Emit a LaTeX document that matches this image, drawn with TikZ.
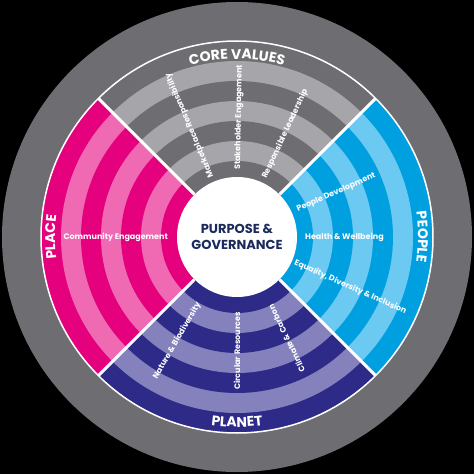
\documentclass[tikz,border=0pt]{standalone}
\usepackage{fontspec}
\setmainfont{Poppins}
\usepackage{tikz}
\usetikzlibrary{decorations.text}
\definecolor{Ring}{HTML}{6E6E72}
\definecolor{CoreDark}{HTML}{6E6E72}
\definecolor{CoreLight}{HTML}{A6A6AA}
\definecolor{PeopleDark}{HTML}{00A0E0}
\definecolor{PeopleLight}{HTML}{6CC9F2}
\definecolor{PlanetDark}{HTML}{2D2A88}
\definecolor{PlanetLight}{HTML}{8481BD}
\definecolor{PlaceDark}{HTML}{E5007D}
\definecolor{PlaceLight}{HTML}{F06AB3}
\definecolor{Navy}{HTML}{1C2A5C}
\tikzstyle{Item}=[text=white, inner sep=0, font=\bfseries\fontsize{8}{8}\selectfont]
\tikzstyle{Hub}=[text=Navy, align=center, inner sep=0, font=\bfseries\fontsize{13}{16}\selectfont]
\tikzstyle{Divider}=[white, line width=3pt]
\tikzset{Heading/.style={decorate, decoration={text along path, text align=center,
    text color=white, text={|\bfseries\fontsize{14}{14}\selectfont|#1}}}}

\begin{document}
\begin{tikzpicture}[x=1pt, y=1pt]
    \useasboundingbox (-237,-237) rectangle (237,237);
    \fill[black] (-237,-237) rectangle (237,237);
    \fill[Ring] (0,0) circle (235);

    % quadrants, outer band first
    \foreach \r/\shade in {196/Dark, 176/Light, 156/Dark, 136/Light, 116/Dark, 96/Light, 76/Dark} {
        \fill[Core\shade] (0,0) -- (45:\r) arc[start angle=45, end angle=135, radius=\r] -- cycle;
        \fill[Place\shade] (0,0) -- (135:\r) arc[start angle=135, end angle=225, radius=\r] -- cycle;
        \fill[Planet\shade] (0,0) -- (225:\r) arc[start angle=225, end angle=315, radius=\r] -- cycle;
        \fill[People\shade] (0,0) -- (-45:\r) arc[start angle=-45, end angle=45, radius=\r] -- cycle;
    }
    \draw[white, line width=1.5pt] (0,0) circle (196);

    \path (0,0) node[circle, fill=white, minimum size=120, inner sep=0] (hub) {};
    \path (hub.45) coordinate (ne) (hub.135) coordinate (nw)
          (hub.225) coordinate (sw) (hub.315) coordinate (se)
          (45:196) coordinate (ne') (135:196) coordinate (nw')
          (225:196) coordinate (sw') (315:196) coordinate (se');
    \draw[Divider] (ne) -- (ne');
    \draw[Divider] (nw) -- (nw');
    \draw[Divider] (sw) -- (sw');
    \draw[Divider] (se) -- (se');

    \path (0,0) node[Hub] (purpose) {PURPOSE \&\\GOVERNANCE};

    % headings round the outer band
    \path[Heading={CORE VALUES}] (120:178) arc[start angle=120, end angle=60, radius=178];
    \path[Heading={PEOPLE}] (30:181) arc[start angle=30, end angle=-30, radius=181];
    \path[Heading={PLANET}] (240:190) arc[start angle=240, end angle=300, radius=190];
    \path[Heading={PLACE}] (210:182) arc[start angle=210, end angle=150, radius=182];

    \path
    (113:65) node[Item, anchor=west, rotate=113] (market) {Marketplace Responsibility}
    (89:67) node[Item, anchor=west, rotate=89] (stake) {Stakeholder Engagement}
    (65:65) node[Item, anchor=west, rotate=65] (leader) {Responsible Leadership};

    \path
    (24:66) node[Item, anchor=west, rotate=24] (develop) {People Development}
    (0:68) node[Item, anchor=west] (health) {Health \& Wellbeing}
    (-24:63) node[Item, anchor=west, rotate=-24] (equality) {Equality, Diversity \& Inclusion};

    \path
    (240:76) node[Item, anchor=east, rotate=60] (nature) {Nature \& Biodiversity}
    (270:75) node[Item, anchor=east, rotate=90] (circular) {Circular Resources}
    (296:76) node[Item, anchor=east, rotate=116] (climate) {Climate \& Carbon};

    \path (180:69) node[Item, anchor=east] (community) {Community Engagement};
\end{tikzpicture}
\end{document}
